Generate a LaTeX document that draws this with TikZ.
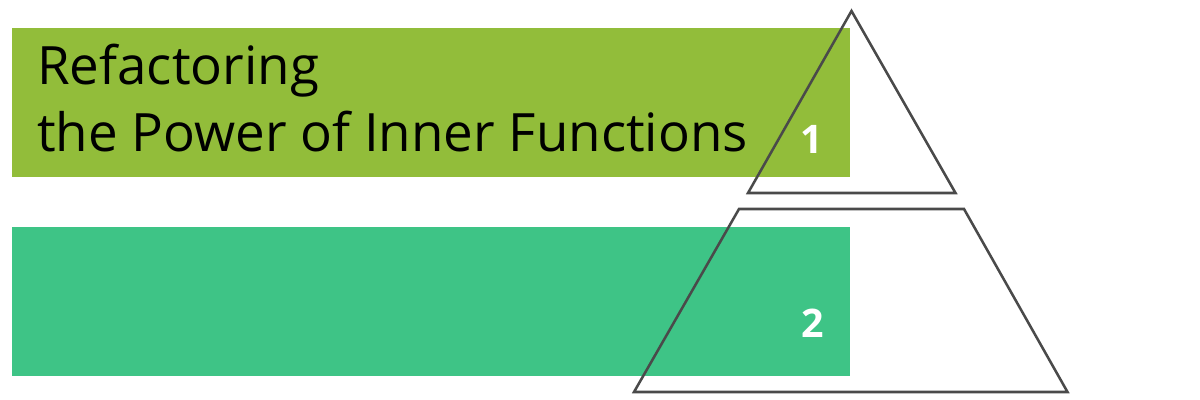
\documentclass[tikz,border=0pt]{standalone}
\usepackage{fontspec}
\setmainfont{Open Sans}
\usepackage{tikz}

\definecolor{levelone}{HTML}{92BD3A}
\definecolor{leveltwo}{HTML}{3EC486}
\definecolor{outline}{HTML}{4A4A4A}

\begin{document}
\begin{tikzpicture}[x=0.025cm,y=-0.025cm,
    title/.style={anchor=base west,inner sep=0pt,text=black,
      font=\fontsize{37.6}{45}\selectfont},
    levelnum/.style={anchor=base,inner sep=0pt,text=white,
      font=\fontsize{28}{32}\selectfont\bfseries},
    pyramid/.style={draw=outline,line width=1.8pt,line join=miter}]
  \useasboundingbox (0,0) rectangle (1200,400);
  % the two bars
  \fill[levelone] (12,28) rectangle (850,177);
  \fill[leveltwo] (12,227) rectangle (850,376);
  \node[title] (line1) at (37,85) {Refactoring};
  \node[title] (line2) at (37,152) {the Power of Inner Functions};
  \node[levelnum] (one) at (812,153) {1};
  \node[levelnum] (two) at (813,337) {2};
  % pyramid on top
  \draw[pyramid] (851.5,11) -- (955.5,193) -- (748,193) -- cycle;
  \draw[pyramid] (739,209) -- (964,209) -- (1067.5,392) -- (634,392) -- cycle;
\end{tikzpicture}
\end{document}
